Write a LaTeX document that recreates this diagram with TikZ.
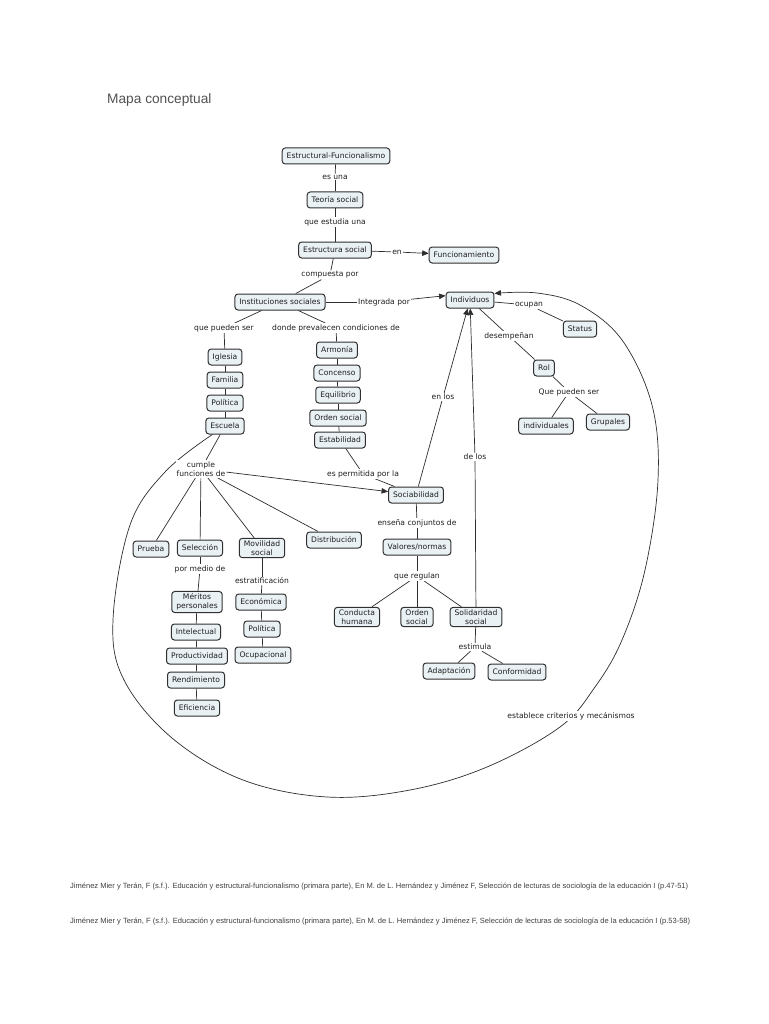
\documentclass[tikz,border=0pt]{standalone}
\usepackage{fontspec}
\usepackage{graphicx}
\setmainfont{DejaVu Sans}
\newfontfamily\arialf{Liberation Sans}
\usetikzlibrary{arrows.meta,backgrounds}
\definecolor{boxfill}{HTML}{E9F1F5}
\definecolor{boxline}{HTML}{303030}
\definecolor{txt}{HTML}{1E1E1E}
\definecolor{linec}{HTML}{2E2E2E}
\tikzset{
  concept/.style={draw=boxline, fill=boxfill, rounded corners=3pt, line width=1pt,
    inner xsep=4.5pt, inner ysep=2pt, minimum height=16pt,
    font=\fontsize{7.6}{9.4}\selectfont, text=txt, align=center},
  lbl/.style={fill=white, inner sep=1pt, font=\fontsize{7.6}{9.4}\selectfont, text=txt, align=center},
  link/.style={draw=linec, line width=0.7pt},
  arr/.style={link, -{Triangle[length=6.5pt,width=5.5pt]}},
}
\begin{document}
\begin{tikzpicture}[x=1pt,y=-1pt]
\useasboundingbox (0,0) rectangle (768,1024);

% title
\node[anchor=base west, inner sep=0pt, text=black!68, font=\arialf\fontsize{13.7}{16}\selectfont] (title) at (107,104) {Mapa conceptual};

% concepts
\node[concept] (ef) at (336,156) {Estructural-Funcionalismo};
\node[concept] (teo) at (335,200) {Teoría social};
\node[concept] (est) at (335,250) {Estructura social};
\node[concept] (fun) at (464,255) {Funcionamiento};
\node[concept] (ins) at (280,302) {Instituciones sociales};
\node[concept] (ind) at (470,300) {Individuos};
\node[concept] (sta) at (580,329) {Status};
\node[concept] (rol) at (544,368) {Rol};
\node[concept] (indv) at (546,426) {individuales};
\node[concept] (gru) at (608,422) {Grupales};
\node[concept] (igl) at (225,357) {Iglesia};
\node[concept] (fam) at (225,380) {Familia};
\node[concept] (pol) at (225,403) {Política};
\node[concept] (esc) at (225,426) {Escuela};
\node[concept] (arm) at (337,350) {Armonía};
\node[concept] (con) at (337,373) {Concenso};
\node[concept] (equ) at (338,395) {Equilibrio};
\node[concept] (ord) at (338,418) {Orden social};
\node[concept] (estb) at (340,440) {Estabilidad};
\node[concept] (soc) at (416,495) {Sociabilidad};
\node[concept] (val) at (417,547) {Valores/normas};
\node[concept] (pru) at (151,549) {Prueba};
\node[concept] (sel) at (200,548) {Selección};
\node[concept] (mov) at (262,548) {Movilidad\\social};
\node[concept] (dis) at (334,540) {Distribución};
\node[concept] (mer) at (197,602) {Méritos\\personales};
\node[concept] (eco) at (261,602) {Económica};
\node[concept] (pol2) at (262,629) {Política};
\node[concept] (ocu) at (263,655) {Ocupacional};
\node[concept] (int) at (196,632) {Intelectual};
\node[concept] (pro) at (197,656) {Productividad};
\node[concept] (ren) at (196,680) {Rendimiento};
\node[concept] (efi) at (197,708) {Eficiencia};
\node[concept] (cond) at (357,617) {Conducta\\humana};
\node[concept] (ord2) at (417,617) {Orden\\social};
\node[concept] (sol) at (476,617) {Solidaridad\\social};
\node[concept] (ada) at (449,671) {Adaptación};
\node[concept] (conf) at (517,672) {Conformidad};

% linking phrases
\node[lbl] (l1) at (335,177) {es una};
\node[lbl] (l2) at (335,222) {que estudia una};
\node[lbl] (l3) at (397,252) {en};
\node[lbl] (l4) at (330,275) {compuesta por};
\node[lbl] (l5) at (384,302) {Integrada por};
\node[lbl] (l6) at (529,305) {ocupan};
\node[lbl] (l7) at (509,336) {desempeñan};
\node[lbl] (l8) at (569,392) {Que pueden ser};
\node[lbl] (l9) at (224,328) {que pueden ser};
\node[lbl] (l10) at (336,328) {donde prevalecen condiciones de};
\node[lbl] (l11) at (363,474) {es permitida por la};
\node[lbl] (l12) at (201,469) {cumple\\funciones de};
\node[lbl] (l13) at (443,397) {en los};
\node[lbl] (l14) at (475,457) {de los};
\node[lbl] (l15) at (417,523) {enseña conjuntos de};
\node[lbl] (l16) at (417,576) {que regulan};
\node[lbl] (l17) at (200,569) {por medio de};
\node[lbl] (l18) at (262,581) {estratificación};
\node[lbl] (l19) at (475,647) {estimula};

% connectors
\begin{scope}[on background layer]
\fill[white] (0,0) rectangle (768,1024);
\draw[link] (ef) -- (l1); \draw[link] (l1) -- (teo);
\draw[link] (teo) -- (l2); \draw[link] (l2) -- (est);
\draw[link] (est) -- (l3); \draw[arr] (l3) -- (fun);
\draw[link] (est) -- (l4); \draw[link] (l4) -- (ins);
\draw[link] (ins) -- (l5); \draw[arr] (l5) -- (ind.170);
\draw[link] (ind) -- (l6); \draw[link] (l6) -- (sta);
\draw[link] (ind) -- (l7); \draw[link] (l7) -- (rol);
\draw[link] (rol) -- (l8); \draw[link] (l8) -- (indv); \draw[link] (l8) -- (gru);
\draw[link] (ins) -- (l9); \draw[link] (l9) -- (igl);
\draw[link] (igl) -- (fam); \draw[link] (fam) -- (pol); \draw[link] (pol) -- (esc);
\draw[link] (ins) -- (l10); \draw[link] (l10) -- (arm);
\draw[link] (arm) -- (con); \draw[link] (con) -- (equ); \draw[link] (equ) -- (ord); \draw[link] (ord) -- (estb);
\draw[link] (estb) -- (l11); \draw[link] (l11) -- (soc);
\draw[link] (esc) -- (l12);
\draw[arr] (l12) -- (soc);
\draw[link] (l12) -- (pru); \draw[link] (l12) -- (sel); \draw[link] (l12) -- (mov); \draw[link] (l12) -- (dis);
\draw[link] (sel) -- (l17); \draw[link] (l17) -- (mer);
\draw[link] (mer) -- (int); \draw[link] (int) -- (pro); \draw[link] (pro) -- (ren); \draw[link] (ren) -- (efi);
\draw[link] (mov) -- (l18); \draw[link] (l18) -- (eco);
\draw[link] (eco) -- (pol2); \draw[link] (pol2) -- (ocu);
\draw[link] (soc) -- (l13); \draw[arr] (l13) -- (ind);
\draw[link] (sol) -- (l14); \draw[arr] (l14) -- (ind);
\draw[link] (soc) -- (l15); \draw[link] (l15) -- (val);
\draw[link] (val) -- (l16);
\draw[link] (l16) -- (cond); \draw[link] (l16) -- (ord2); \draw[link] (l16) -- (sol);
\draw[link] (sol) -- (l19); \draw[link] (l19) -- (ada); \draw[link] (l19) -- (conf);
% big curve from Escuela to Individuos
\draw[arr] plot[smooth, tension=0.6] coordinates {
  ([xshift=7pt]esc.south west) (165,472) (130,525) (113,620) (124,680)
  (172,738) (243,780) (327,797) (410,790) (487,767) (560,727) (595,687)
  (622,640) (645,570) (658,480) (652,405) (622,340) (580,305) (537,293) (ind.15)};
\end{scope}
\node[lbl] (l20) at (571,716) {establece criterios y mecánismos};

% references
\node[anchor=west, inner sep=0pt, text=black!75] (ref1) at (70,886) {\resizebox{618pt}{!}{\arialf\fontsize{6.6}{8}\selectfont Jiménez Mier y Terán, F (s.f.). Educación y estructural-funcionalismo (primara parte), En M. de L. Hernández y Jiménez F, Selección de lecturas de sociología de la educación I (p.47-51)}};
\node[anchor=west, inner sep=0pt, text=black!75] (ref2) at (70,921) {\resizebox{620pt}{!}{\arialf\fontsize{6.6}{8}\selectfont Jiménez Mier y Terán, F (s.f.). Educación y estructural-funcionalismo (primara parte), En M. de L. Hernández y Jiménez F, Selección de lecturas de sociología de la educación I (p.53-58)}};
\end{tikzpicture}
\end{document}
